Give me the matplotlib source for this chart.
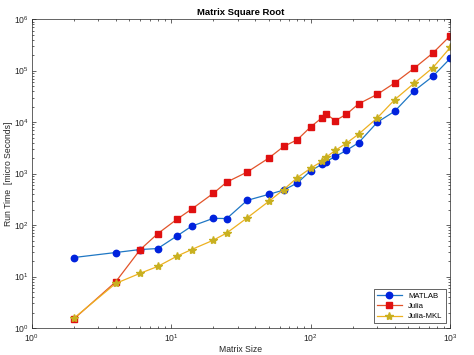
import numpy as np
import matplotlib
matplotlib.use("Agg")
import matplotlib.pyplot as plt

# matrix sizes (same for all three series)
sizes = [2, 4, 6, 8, 11, 14, 20, 25, 35, 50, 64, 80, 100, 120, 128, 150,
         180, 220, 300, 400, 550, 750, 1000]

matlab_t = [23.4, 29.3, 33.5, 35, 61.5, 95, 135, 134, 302, 395, 479, 655,
            1140, 1510, 1700, 2150, 2820, 3970, 9950, 16300, 40400, 77600,
            173000]
julia_t = [1.49, 7.9, 33.5, 68, 130, 204, 413, 684, 1070, 2000, 3370, 4540,
           8110, 12100, 14500, 10700, 14200, 22600, 34700, 57800, 111000,
           220000, 477000]
julia_mkl_t = [1.54, 7.35, 11.6, 15.7, 24.9, 33.5, 50.8, 70.3, 138, 289, 490,
               833, 1280, 1720, 2060, 2820, 3900, 5830, 12100, 27400, 56800,
               114000, 283000]

plt.rcParams["font.family"] = ["Liberation Sans", "DejaVu Sans"]
plt.rcParams["mathtext.fontset"] = "custom"
plt.rcParams["mathtext.rm"] = "Liberation Sans"
plt.rcParams["mathtext.it"] = "Liberation Sans:italic"

grey = (0.15, 0.15, 0.15)

fig = plt.figure(figsize=(4.74, 3.55), dpi=100)
ax = fig.add_axes([0.0669, 0.076, 0.8831, 0.870])

ax.loglog(sizes, matlab_t, "-o", color="#1f77c4", lw=0.9, ms=4.6,
          mfc="#0022dd", mec="#0022dd", label="MATLAB")
ax.loglog(sizes, julia_t, "-s", color="#e2542a", lw=0.9, ms=3.8,
          mfc="#e01010", mec="#e01010", label="Julia")
ax.loglog(sizes, julia_mkl_t, "-*", color="#edb120", lw=0.9, ms=6,
          mfc="#c8b020", mec="#c8b020", label="Julia-MKL")

ax.set_xlim(1, 1000)
ax.set_ylim(1, 1e6)
ax.set_title("Matrix Square Root", fontsize=6.8, fontweight="bold",
             color="black", pad=3)
ax.set_xlabel("Matrix Size", fontsize=6.2, color=grey, labelpad=1)
ax.set_ylabel("Run Time  [micro Seconds]", fontsize=6.2, color=grey, labelpad=1)

ax.tick_params(which="both", direction="in", top=True, right=True,
               colors=grey, labelsize=6.2, width=0.5)
ax.tick_params(which="major", length=3, pad=2)
ax.tick_params(axis="x", which="major", pad=3)
ax.tick_params(which="minor", length=1.6)
for s in ax.spines.values():
    s.set_color(grey)
    s.set_linewidth(0.5)

leg = ax.legend(loc="lower right", fontsize=5.6, fancybox=False,
                edgecolor=grey, framealpha=1, borderpad=0.4,
                handlelength=3.2, labelspacing=0.35, borderaxespad=0.6)
leg.get_frame().set_linewidth(0.5)

fig.savefig("out.png", dpi=100)
